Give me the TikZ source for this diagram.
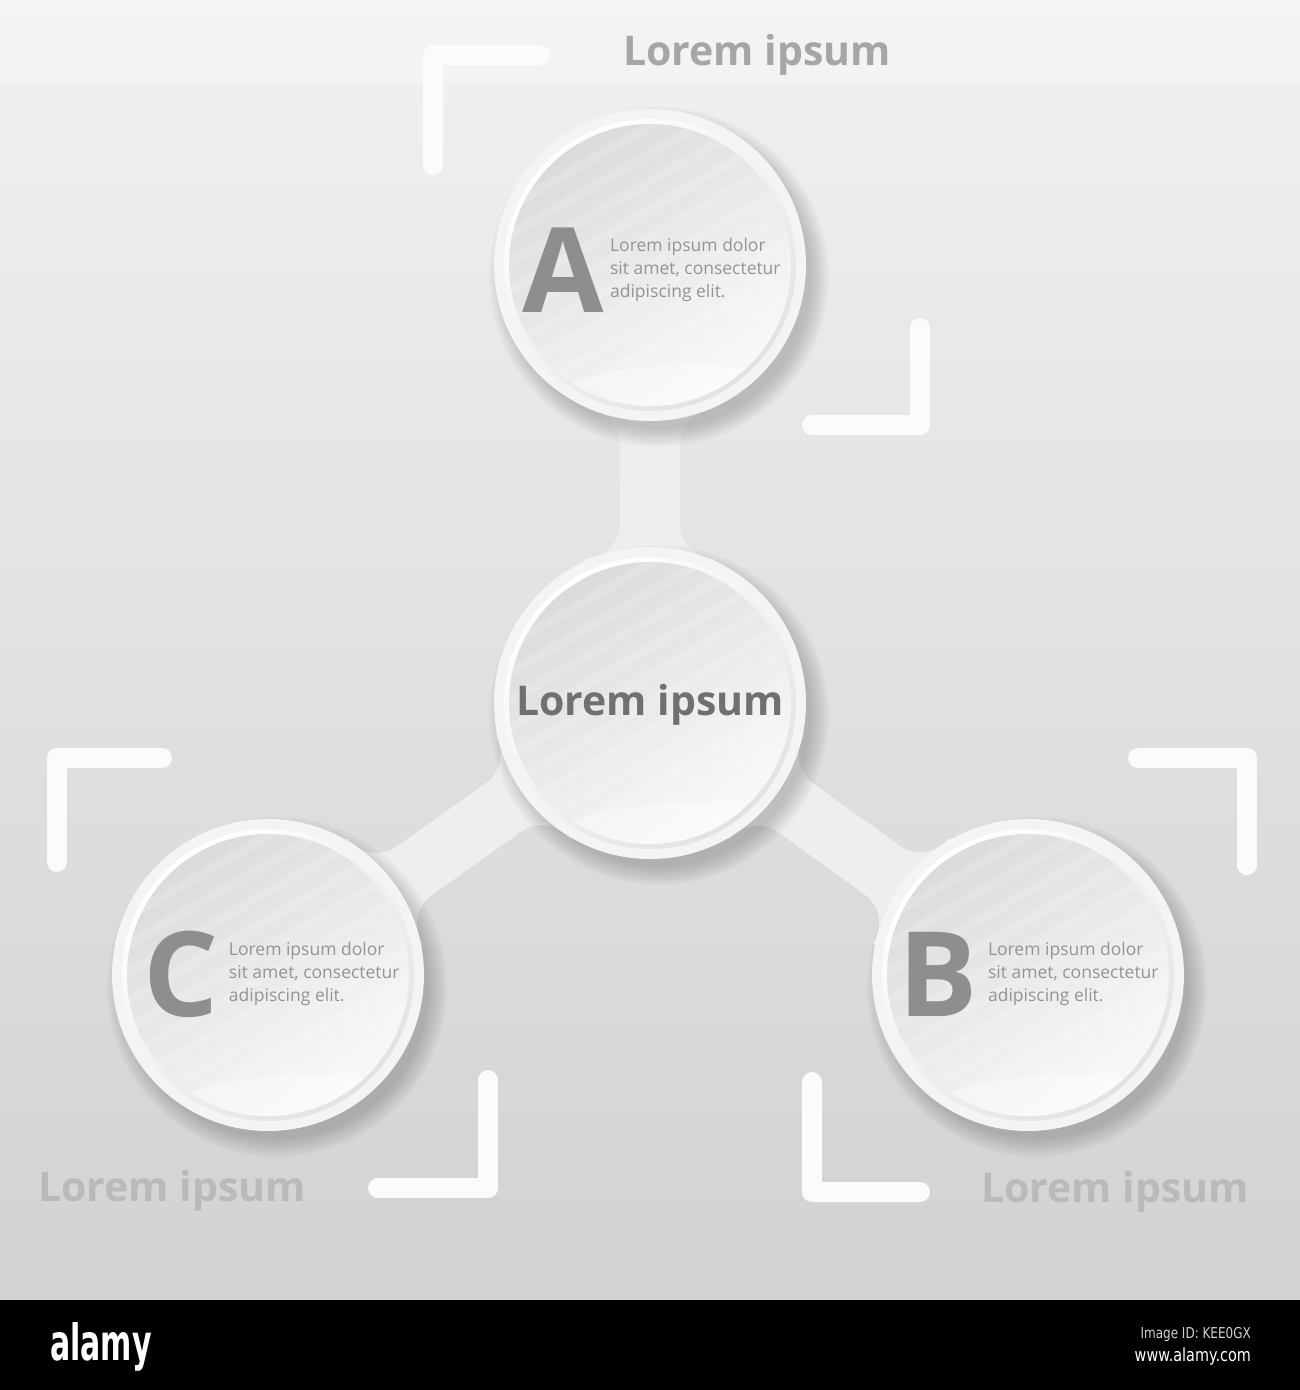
\documentclass[tikz,border=0pt]{standalone}
\usepackage{fontspec}
\usepackage{graphicx}
\setmainfont{Open Sans}
\newfontfamily\banfont{DejaVu Sans}
\usetikzlibrary{positioning,calc}
\definecolor{nentren}{HTML}{F1F1F1}
\definecolor{nenduoi}{HTML}{D2D2D2}
\definecolor{vien}{HTML}{F4F4F4}
\definecolor{caunoi}{HTML}{EEEEEE}
\definecolor{mattoi}{HTML}{DBDBDB}
\definecolor{matsang}{HTML}{F9F9F9}
\definecolor{chuxam}{HTML}{8E8E8E}
\definecolor{chudam}{HTML}{707070}
\tikzset{
  goc/.style={line width=20pt, line cap=round, line join=round, color=white!97!gray},
  cau/.style={line width=60pt, color=caunoi},
  tieude/.style={font=\bfseries\fontsize{41}{41}\selectfont, inner sep=0pt},
  chucai/.style={font=\bfseries\fontsize{118}{118}\selectfont, text=chuxam, inner sep=0pt},
  noidung/.style={font=\fontsize{17.5}{23}\selectfont, text=chuxam!95!white, align=left, inner sep=0pt},
  vet/.style={line width=9pt, white, opacity=0.16},
}
\begin{document}
\begin{tikzpicture}[x=1pt, y={(0,-1pt)}, line join=round]
%==Phần thông số
\def\R{156}   % vành ngoài
\def\r{141}   % mặt trong
%==============
\useasboundingbox (0,0) rectangle (1300,1390);
\shade[top color=nentren, bottom color=nenduoi] (0,0) rectangle (1300,1300);
\fill[white, opacity=0.25] (0,0) rectangle (1300,82);
% các góc vuông
\draw[goc] (433,165)--(433,55)--(541,55);
\draw[goc] (812,425)--(920,425)--(920,328);
\draw[goc] (57,862)--(57,758)--(162,758);
\draw[goc] (378,1188)--(488,1188)--(488,1080);
\draw[goc] (1138,758)--(1247,758)--(1247,865);
\draw[goc] (812,1082)--(812,1192)--(920,1192);
% tiêu đề
\node[tieude, text=black!35, anchor=base] (tdA) at (757,65) {Lorem ipsum};
\node[tieude, text=black!27, anchor=base] (tdC) at (172,1201) {Lorem ipsum};
\node[tieude, text=black!27, anchor=base] (tdB) at (1115,1202) {Lorem ipsum};
% tâm các hình tròn
\foreach \ten/\x/\y in {M/650/703, A/650/265, B/1028/975, C/268/975}
  \coordinate (c\ten) at (\x,\y);
\draw[cau] (cM)--(cA);
\draw[cau] (cM)--(cB);
\draw[cau] (cM)--(cC);
% chỗ loe của cầu nối
\foreach \p/\q in {M/A, A/M, M/B, B/M, M/C, C/M}
  \foreach \s in {1,-1}{
    \begin{scope}
      \clip ($(c\p)!104.4pt!\s*16.70:(c\q)$)--($(c\p)!182.1pt!\s*9.48:(c\q)$)
        --($(c\p)!191pt!\s*19.89:(c\q)$)--($(c\p)!119.3pt!\s*33.02:(c\q)$)--cycle;
      \fill[caunoi, even odd rule] (0,0) rectangle (1300,1300)
        ($(c\p)!191pt!\s*19.89:(c\q)$) circle (35);
    \end{scope}
  }
% các hình tròn
\foreach \ten/\x/\y in {M/650/703, A/650/265, B/1028/975, C/268/975}{
  \foreach \k in {1,...,10}
    \fill[black, opacity=0.02] (\x+9,\y+12) circle (\R-6+\k*2);
  \fill[vien] (\x,\y) circle (\R);
  \shade[top color=white, bottom color=black!11, shading angle=40] (\x,\y) circle (\r+5);
  \shade[top color=mattoi, bottom color=matsang, shading angle=35] (\x,\y) circle (\r);
  \begin{scope}
    \clip (\x,\y) circle (\r);
    \foreach \d in {-240,-216,...,240}
      \draw[vet] (\x-230+0.5*\d,\y+133+0.87*\d)--++(460,-266);
    \fill[white, opacity=0.35] (\x+40,\y+190) ellipse (200 and 90);
  \end{scope}
}
% chữ
\node[tieude, text=chudam, anchor=base] (tdM) at (cM|-0,715) {Lorem ipsum};
\node[chucai] (chuA) at (563,270) {A};
\node[noidung, right=6pt of chuA] (ndA) {Lorem ipsum dolor\\sit amet, consectetur\\adipiscing elit.};
\node[chucai] (chuC) at (181,974) {C};
\node[noidung, right=10pt of chuC] (ndC) {Lorem ipsum dolor\\sit amet, consectetur\\adipiscing elit.};
\node[chucai] (chuB) at (938,974) {B};
\node[noidung, right=10pt of chuB] (ndB) {Lorem ipsum dolor\\sit amet, consectetur\\adipiscing elit.};
% dải đen
\fill[black] (0,1300) rectangle (1300,1390);
\node[anchor=base west, inner sep=0pt, text=white] (logo) at (50,1360)
  {\scalebox{0.6}[1]{\banfont\bfseries\fontsize{50}{50}\selectfont alamy}};
\node[anchor=base east, inner sep=0pt, text=black!18] (maso) at (1251,1338)
  {\scalebox{0.8}[1]{\banfont\fontsize{15}{15}\selectfont Image ID: KEE0GX}};
\node[anchor=base east, inner sep=0pt, text=white] (web) at (1251,1361)
  {\scalebox{0.8}[1]{\banfont\fontsize{18}{18}\selectfont www.alamy.com}};
\end{tikzpicture}
\end{document}
